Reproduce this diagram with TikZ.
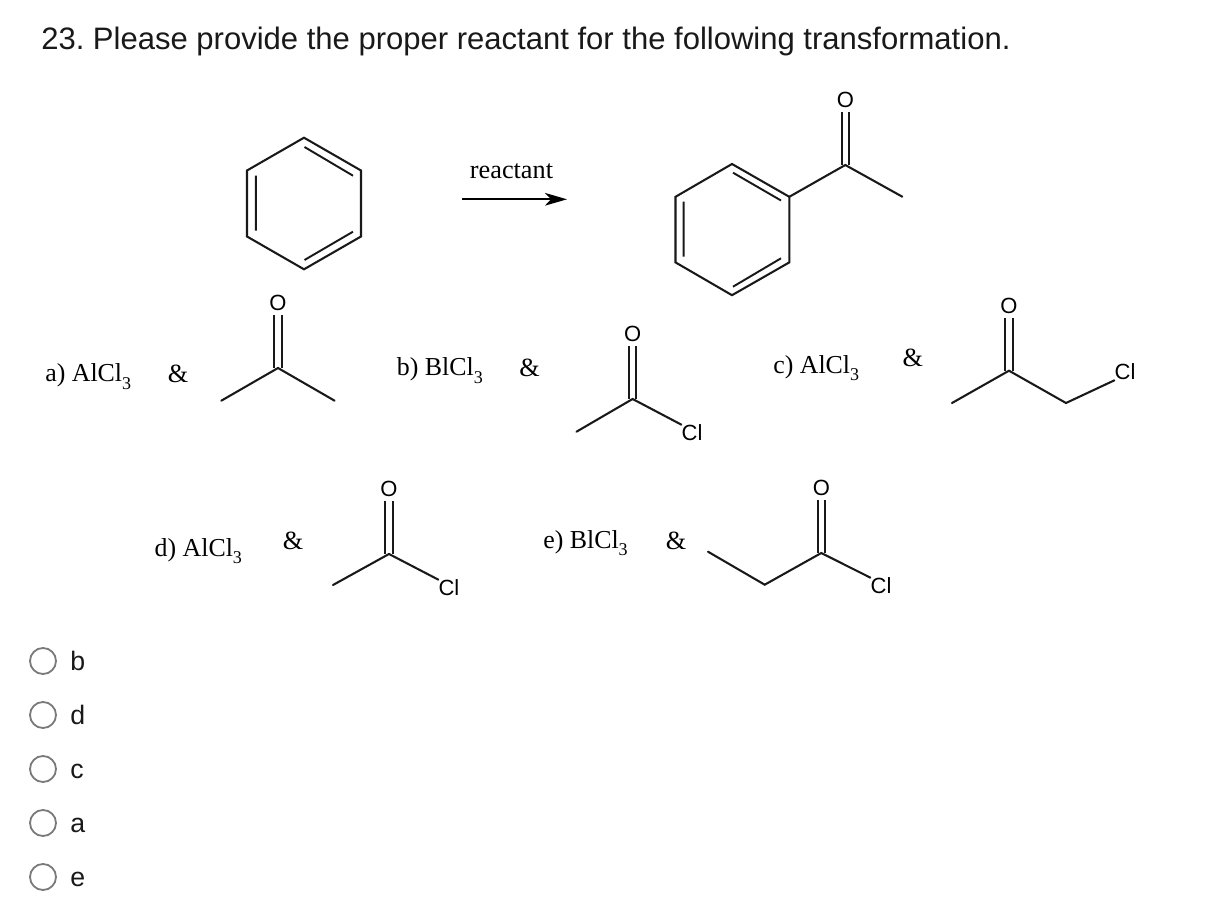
\documentclass[tikz,border=0pt]{standalone}
\usepackage{fontspec}
\setmainfont{Liberation Serif}
\newfontfamily\hel{Liberation Sans}
\usetikzlibrary{arrows.meta}
\frenchspacing
\newcommand{\subthree}{\raisebox{-0.28em}{\fontsize{13.5}{14}\selectfont 3}}
\tikzset{
  x=0.75pt,y=-0.75pt,
  bond/.style={line width=1.55pt,line cap=round,line join=miter,black!90},
  dbl/.style={line width=1.45pt,black!90},
  atom/.style={inner sep=0pt,font=\hel\fontsize{16.5}{18}\selectfont},
  chem/.style={inner sep=0pt,anchor=base west,font=\fontsize{19.4}{22}\selectfont},
  amp/.style={inner sep=0pt,font=\fontsize{19.7}{22}\selectfont},
  radio/.style={circle,draw=black!52,line width=1.35pt,minimum size=19.5pt,inner sep=0pt},
  opt/.style={inner sep=0pt,anchor=base west,font=\hel\fontsize{20}{22}\selectfont,text=black!90},
}
\newcommand{\ketone}[4]{% carbon name, carbon x, carbon y, O node name
  \coordinate (#1) at (#2,#3);
  \node[atom] (#4) at (#2,#3-65) {O};
  \draw[dbl] ([xshift=-2.7pt]#1) -- ([xshift=-2.7pt,yshift=-3pt]#4.south);
  \draw[dbl] ([xshift=2.7pt]#1) -- ([xshift=2.7pt,yshift=-3pt]#4.south);
}
\begin{document}
\begin{tikzpicture}
\useasboundingbox (0,0) rectangle (1222,916);
\fill[white] (0,0) rectangle (1222,916);

\node[inner sep=0pt,anchor=base west,font=\hel\fontsize{23.27}{26}\selectfont,text=black!90] (title) at (41,50) {23. Please provide the proper reactant for the following transformation.};

% benzene
\coordinate (b1) at (304,137.7); \coordinate (b2) at (361,170.5); \coordinate (b3) at (361,236.5);
\coordinate (b4) at (304,269.3); \coordinate (b5) at (247,236.5); \coordinate (b6) at (247,170.5);
\draw[bond] (b1)--(b2)--(b3)--(b4)--(b5)--(b6)--cycle;
\coordinate (bi1) at (304.5,147); \coordinate (bi2) at (353,175.7);
\coordinate (bi3) at (353,231.7); \coordinate (bi4) at (304.5,260);
\coordinate (bi5) at (255.8,230.7); \coordinate (bi6) at (255.8,175.7);
\draw[dbl] (bi1)--(bi2) (bi3)--(bi4) (bi5)--(bi6);

% arrow
\node[inner sep=0pt,font=\fontsize{19.7}{22}\selectfont] (react) at (511.5,171) {reactant};
\coordinate (ar1) at (462,199.3); \coordinate (ar2) at (567,199.3);
\draw[line width=1.4pt,-{Stealth[length=16.5pt,width=9.5pt,inset=4.5pt]}] (ar1)--(ar2);

% product
\coordinate (p1) at (732,164); \coordinate (p2) at (789.3,196.8); \coordinate (p3) at (789.3,262.4);
\coordinate (p4) at (732,295.2); \coordinate (p5) at (675.5,262.4); \coordinate (p6) at (675.5,196.8);
\draw[bond] (p1)--(p2)--(p3)--(p4)--(p5)--(p6)--cycle;
\coordinate (pi1) at (733,172.7); \coordinate (pi2) at (781,200.5);
\coordinate (pi3) at (781,258.3); \coordinate (pi4) at (733,286.7);
\coordinate (pi5) at (683.7,256.7); \coordinate (pi6) at (683.7,201.7);
\draw[dbl] (pi1)--(pi2) (pi3)--(pi4) (pi5)--(pi6);
\ketone{pc}{845.3}{165}{pO}
\coordinate (pm) at (902.3,196.7);
\draw[bond] (p2)--(pc)--(pm);

% a
\node[chem] (la) at (45,382) {a) AlCl\subthree};
\node[amp] (aa) at (178,374) {\&};
\ketone{ac}{278}{368}{aO}
\coordinate (al) at (221.3,400.7); \coordinate (ar) at (334.6,400.7);
\draw[bond] (al)--(ac)--(ar);

% b
\node[chem] (lb) at (396.6,376) {b) BlCl\subthree};
\node[amp] (ab) at (529.5,368) {\&};
\ketone{bc}{632.6}{399}{bO}
\coordinate (bl) at (576.5,431.7);
\node[atom] (bCl) at (692,433) {Cl};
\draw[bond] (bl)--(bc)--(bCl.north west);

% c
\node[chem] (lc) at (773,373.7) {c) AlCl\subthree};
\node[amp] (ac2) at (912.8,358) {\&};
\ketone{cc}{1009}{370.7}{cO}
\coordinate (cl) at (952,403); \coordinate (cm) at (1066,403);
\node[atom] (cCl) at (1125,372) {Cl};
\draw[bond] (cl)--(cc)--(cm)--(cCl.south west);

% d
\node[chem] (ld) at (154.4,556) {d) AlCl\subthree};
\node[amp] (ad) at (293,541) {\&};
\ketone{dc}{389}{554}{dO}
\coordinate (dl) at (333,585);
\node[atom] (dCl) at (449,588) {Cl};
\draw[bond] (dl)--(dc)--(dCl.north west);

% e
\node[chem] (le) at (543,548) {e) BlCl\subthree};
\node[amp] (ae) at (676,541) {\&};
\ketone{ec}{821.3}{553}{eO}
\coordinate (el) at (708,551.7); \coordinate (em) at (764.7,584.7);
\node[atom] (eCl) at (881,586) {Cl};
\draw[bond] (el)--(em)--(ec)--(eCl.north west);

% options
\node[radio] (r1) at (43,661) {}; \node[opt] (o1) at (70,670) {b};
\node[radio] (r2) at (43,715) {}; \node[opt] (o2) at (70,724) {d};
\node[radio] (r3) at (43,769) {}; \node[opt] (o3) at (70,778) {c};
\node[radio] (r4) at (43,823) {}; \node[opt] (o4) at (70,832) {a};
\node[radio] (r5) at (43,877) {}; \node[opt] (o5) at (70,886) {e};
\end{tikzpicture}
\end{document}
